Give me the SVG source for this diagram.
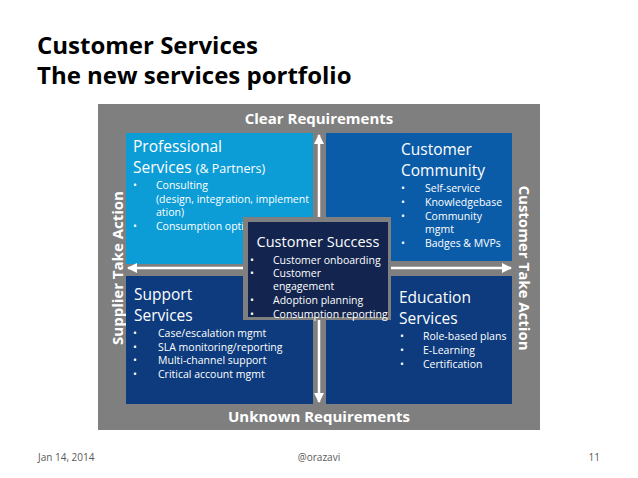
<svg xmlns="http://www.w3.org/2000/svg" width="638" height="478" viewBox="0 0 638 478">
<style>
text{font-family:"Open Sans","Liberation Sans",sans-serif;fill:#fff}
.h{font-size:15.5px}
.b{font-size:10.5px}
.t{font-size:15px;font-weight:bold}
.f{font-size:10px;fill:#595959}
.ti{fill:#000;font-size:24px;font-weight:bold}
</style>
<defs>
<marker id="a" viewBox="0 0 10 10" refX="9" refY="5" markerWidth="4" markerHeight="4" orient="auto-start-reverse"><path d="M0,0L10,5L0,10z" fill="#fff"/></marker>
</defs>
<rect width="638" height="478" fill="#fff"/>
<g id="title"><text class="ti" x="37" y="54">Customer Services</text>
<text class="ti" x="37" y="84">The new services portfolio</text></g>
<g id="frame"><rect x="98" y="104" width="442" height="326" fill="#7f7f7f"/>
<text class="t" x="319" y="124" text-anchor="middle">Clear Requirements</text>
<text class="t" x="319" y="422" text-anchor="middle">Unknown Requirements</text>
<text class="t" transform="translate(123,268) rotate(-90)" text-anchor="middle">Supplier Take Action</text>
<text class="t" transform="translate(519,268) rotate(90)" text-anchor="middle">Customer Take Action</text></g>
<g id="ps"><rect x="126" y="133" width="187" height="131" fill="#0c9cd6"/>
<text class="h" x="133" y="152">Professional</text><text class="h" x="133" y="173">Services <tspan style="font-size:12.5px">(&amp; Partners)</tspan></text>
<text class="b" x="133" y="189">•<tspan x="156">Consulting</tspan></text>
<text class="b" x="156" y="203">(design, integration, implement</text>
<text class="b" x="156" y="216">ation)</text>
<text class="b" x="133" y="230">•<tspan x="156">Consumption optimization</tspan></text></g>
<g id="cc"><rect x="326" y="133" width="186" height="128" fill="#0b5ca8"/>
<text class="h" x="401" y="155">Customer</text><text class="h" x="401" y="176">Community</text>
<text class="b" x="401" y="192">•<tspan x="425">Self-service</tspan></text>
<text class="b" x="401" y="206">•<tspan x="425">Knowledgebase</tspan></text>
<text class="b" x="401" y="220">•<tspan x="425">Community</tspan></text>
<text class="b" x="425" y="233">mgmt</text>
<text class="b" x="401" y="247">•<tspan x="425">Badges &amp; MVPs</tspan></text></g>
<g id="ss"><rect x="126" y="276" width="187" height="128" fill="#0d3b7d"/>
<text class="h" x="134" y="300">Support</text><text class="h" x="134" y="321">Services</text>
<text class="b" x="133" y="337">•<tspan x="158">Case/escalation mgmt</tspan></text>
<text class="b" x="133" y="351">•<tspan x="158">SLA monitoring/reporting</tspan></text>
<text class="b" x="133" y="364">•<tspan x="158">Multi-channel support</tspan></text>
<text class="b" x="133" y="378">•<tspan x="158">Critical account mgmt</tspan></text></g>
<g id="es"><rect x="326" y="276" width="186" height="128" fill="#0d3b7d"/>
<text class="h" x="399" y="303">Education</text><text class="h" x="399" y="324">Services</text>
<text class="b" x="400" y="340">•<tspan x="423">Role-based plans</tspan></text>
<text class="b" x="400" y="354">•<tspan x="423">E-Learning</tspan></text>
<text class="b" x="400" y="368">•<tspan x="423">Certification</tspan></text></g>
<g id="connectors" stroke="#fff" stroke-width="2.5" marker-start="url(#a)" marker-end="url(#a)">
<line x1="319" y1="135" x2="319" y2="402"/>
<line x1="128" y1="268" x2="511" y2="268"/>
</g>
<g id="cs"><rect x="243" y="217" width="148" height="103" fill="#7f7f7f"/>
<rect x="248" y="222" width="140" height="95" fill="#13254f"/>
<text x="318" y="247" text-anchor="middle" style="font-size:14.5px">Customer Success</text>
<text class="b" x="250" y="264">•<tspan x="273">Customer onboarding</tspan></text>
<text class="b" x="250" y="277">•<tspan x="273">Customer</tspan></text>
<text class="b" x="273" y="290">engagement</text>
<text class="b" x="250" y="304">•<tspan x="273">Adoption planning</tspan></text>
<text class="b" x="250" y="318">•<tspan x="273">Consumption reporting</tspan></text></g>
<g id="footer"><text class="f" x="38" y="461">Jan 14, 2014</text>
<text class="f" x="319" y="461" text-anchor="middle">@orazavi</text>
<text class="f" x="600" y="461" text-anchor="end">11</text></g>
</svg>
